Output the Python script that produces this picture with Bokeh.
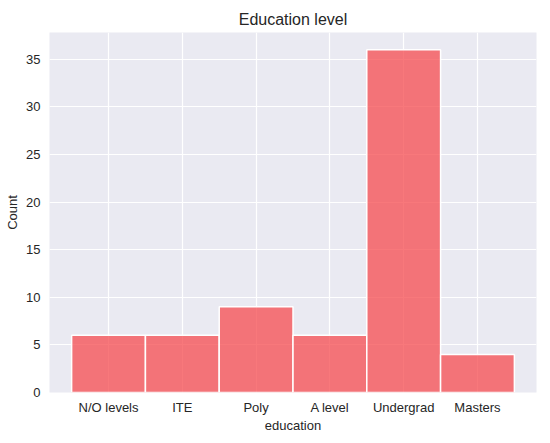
from bokeh.plotting import figure
from bokeh.models import FactorRange, Range1d, ColumnDataSource
from bokeh.embed import file_html
from bokeh.resources import INLINE

categories = ["N/O levels", "ITE", "Poly", "A level", "Undergrad", "Masters"]
counts = [6, 6, 9, 6, 36, 4]

src = ColumnDataSource(data=dict(education=categories, count=counts))

p = figure(x_range=FactorRange(factors=categories, range_padding=0.1),
           y_range=Range1d(0, 37.8),
           frame_width=487, frame_height=360,
           output_backend="svg", toolbar_location=None,
           title="Education level", min_border_left=49, min_border_right=2,
           min_border_top=32, min_border_bottom=42)

p.vbar(x="education", top="count", width=1.0, source=src,
       fill_color="#F64B4F", fill_alpha=0.75, line_color="white", line_width=1.5)

font = "Liberation Sans"
text_col = "#262626"

p.background_fill_color = "#EAEAF2"
p.border_fill_color = "white"
p.outline_line_color = None

p.title.align = "center"
p.title.text_font = font
p.title.text_font_size = "16px"
p.title.text_font_style = "normal"
p.title.text_color = text_col
p.title.standoff = 10

for g in (p.xgrid, p.ygrid):
    g.grid_line_color = "white"
    g.grid_line_width = 1.2

for ax in (p.xaxis, p.yaxis):
    ax.axis_line_color = None
    ax.major_tick_line_color = None
    ax.minor_tick_line_color = None
    ax.major_tick_out = 0
    ax.major_tick_in = 0
    ax.major_label_text_font = font
    ax.major_label_text_font_size = "13px"
    ax.major_label_text_color = text_col
    ax.axis_label_text_font = font
    ax.axis_label_text_font_size = "13px"
    ax.axis_label_text_font_style = "normal"
    ax.axis_label_text_color = text_col

p.xaxis.axis_label = "education"
p.yaxis.axis_label = "Count"
p.xaxis.major_label_standoff = 7
p.xaxis.axis_label_standoff = 0
p.yaxis.major_label_standoff = 9
p.yaxis.axis_label_standoff = 3
p.yaxis.ticker = [0, 5, 10, 15, 20, 25, 30, 35]

open("out.html", "w").write(file_html(p, INLINE))
